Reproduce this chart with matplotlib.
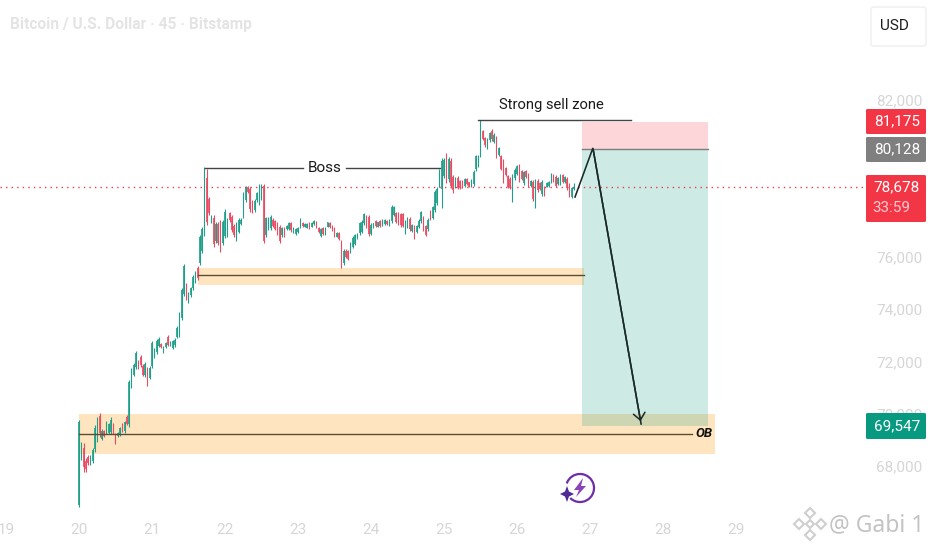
import matplotlib
matplotlib.use("Agg")
import matplotlib.pyplot as plt
from matplotlib.patches import Arc, Polygon, FancyBboxPatch, Rectangle
import numpy as np

W, H = 932, 550
NARROW = ['Roboto', 'DejaVu Sans']

title = "Bitcoin / U.S. Dollar · 45 · Bitstamp"
first_day = 20
bars_per_day = 32
opens = [66500,68330,68700,68200,68350,68100,68200,68650,69050,69900,69050,69330,69280,69280,69300,69600,69200,69140,69200,69590,
 69330,69880,69600,71050,71500,71780,72000,72180,71840,71500,71700,71380,71830,72170,72350,72600,72680,72360,72540,72950,
 72620,72520,72620,72950,73030,73680,74600,74950,74290,74530,74800,75060,75590,75770,76240,76900,79000,78230,77330,77500,
 76600,77270,77320,76530,76800,76830,77680,77530,77200,76700,76960,77260,77550,78180,78660,78600,78120,77780,78160,78060,
 78240,78700,76820,77090,77090,77420,77360,77290,77150,76820,77100,77060,77070,77300,76940,76880,76940,77140,77310,77160,
 77120,77280,77160,77250,77340,77110,76810,77090,76880,77160,77310,77190,77090,76780,76920,76560,75760,76240,76210,76210,76390,76500,
 76700,76900,76960,77280,77540,77520,76890,77120,77370,77160,77370,77210,77250,77380,77230,
 77390,77610,77670,77670,77630,77630,76930,77140,77450,77000,77150,76940,77140,77370,77500,77170,77060,77740,77500,77810,
 78060,78730,78600,79080,79860,78960,79670,79060,78670,79030,78890,78890,78730,78960,78850,78730,78770,79360,79500,79900,
 80800,80550,80160,80460,80830,80390,80540,79900,79840,79640,79400,79080,78980,78800,79000,79180,79480,79270,78810,
 79280,79130,78700,78860,78400,78900,78830,78400,78660,78690,78700,78860,79130,79070,78790,78800,79120,78850,78980,
 78770,78300,78600]
highs = [69760,68930,68870,68300,68420,68420,68680,69570,69890,70020,69410,69380,69740,69660,69860,69660,69250,69320,69510,69640,
 69740,69940,71290,71740,71930,72400,72060,72250,71900,71990,71800,71830,72780,72500,72860,72920,72720,72590,72760,73010,
 72780,72820,72890,73360,73910,74800,75730,75010,74670,74860,75310,75470,75650,76840,77130,79450,79350,78300,77600,77600,
 77350,77350,77410,77410,77820,77470,77730,77600,77260,77350,77470,77470,78490,78710,78710,78690,78180,78200,78490,78790,
 78790,78790,77540,77540,77600,77470,77410,77350,77220,77150,77150,77220,77350,77350,77150,77090,77150,77470,77350,77280,
 77300,77320,77350,77410,77380,77150,77090,77130,77130,77350,77350,77220,77130,76960,76960,76640,76290,76290,76260,76580,76800,76870,
 76900,77350,77410,77690,77600,77600,77280,77310,77410,77350,77410,77440,77440,77410,77440,
 77980,77950,77730,77730,77690,77690,77410,77510,77510,77260,77220,77220,77440,77770,77560,77220,77470,77790,77950,78560,
 78660,79350,79770,79770,79960,79830,79770,79130,79070,79090,78940,78940,79000,79000,78880,78970,79320,79900,79900,81240,
 80850,80600,80530,80790,80880,80730,80620,80220,79900,79730,79450,79130,79040,79170,79390,79510,79550,79320,79300,
 79320,79200,78940,78940,78970,78970,78880,78940,78710,78880,78910,79200,79170,79130,79040,79170,79170,79090,79040,
 78840,78680,78810]
lows = [66450,68230,67785,67790,68040,68040,68100,68550,68930,69120,69000,69120,69230,69230,69230,69230,68840,69100,69150,69300,
 69280,69570,69510,70970,71440,71700,71700,71800,71440,71420,71060,71320,71740,72120,72290,72540,72500,72310,72500,72590,
 72590,72470,72570,72890,72950,73590,74510,74350,74230,74480,74740,75010,75120,75690,76160,76800,77220,77600,77280,76390,
 76520,76450,76200,76450,76710,76750,77350,76960,76770,76620,76900,77220,77470,78110,78430,77730,77660,77730,78110,77980,
 78180,76520,76750,77030,77030,77150,77030,76840,76520,76770,76770,77030,77030,76960,76900,76840,76900,77090,77150,77130,
 77090,77060,77130,77220,77090,76900,76770,76840,76840,77130,77090,76990,76750,76750,76640,75560,75690,75940,75880,76160,76330,76450,
 76670,76840,76900,77220,77090,76800,76840,77090,77130,77130,77130,77180,77220,77220,77200,
 77310,77560,77280,77220,77150,77130,76870,77090,77000,76960,76670,76900,77090,77310,77000,76800,77000,77410,77440,77730,
 77980,78660,77860,79000,78840,78880,78620,78460,78620,78580,78580,78620,78690,78750,78660,78690,78710,79300,79450,79810,
 80470,80220,80110,80410,80450,80340,79770,79860,79320,78810,79090,78620,78580,78110,78940,79130,78880,78940,78750,
 79000,78660,78660,78150,77860,78490,78560,78330,78330,78660,78660,78810,78880,78660,78750,78750,78810,78810,78560,
 78300,78240,78560]
closes = [69700,68830,67950,67900,68100,68350,68600,69450,69750,69250,69350,69170,69680,69600,69750,69280,68950,69280,69460,69350,
 69680,69620,71200,71650,71870,72320,71760,71860,71500,71920,71180,71760,72700,72450,72800,72860,72540,72540,72710,72650,
 72750,72770,72840,73300,73830,74720,75650,74420,74610,74810,75250,75420,75180,76770,77060,79350,77350,77680,77550,76500,
 77270,76530,76300,77330,77730,77400,77400,77030,76830,77280,77400,77430,78400,78640,78470,77820,77720,78150,78440,78710,
 78730,76620,77470,77480,77540,77200,77080,76900,76600,77100,76820,77190,77310,77010,77110,77050,77110,77420,77190,77250,
 77270,77100,77310,77380,77130,76940,77050,76880,77090,77320,77130,77020,76790,76930,76680,75640,76220,75990,75930,76530,76740,76820,
 76870,77290,77350,77630,77150,76880,77230,77280,77170,77320,77170,77410,77410,77250,77410,
 77900,77900,77340,77280,77210,77190,77350,77460,77060,77220,76740,77180,77390,77710,77060,76850,77410,77460,77890,78480,
 78580,79270,79680,79700,78940,79750,78720,78540,79020,78640,78630,78670,78960,78790,78690,78930,79260,79840,79850,80900,
 80520,80270,80480,80740,80500,80680,79850,80180,79380,78900,79140,78680,78640,79100,79330,79460,78950,78990,79240,
 79040,78730,78900,78230,78900,78550,78610,78880,78390,78840,78870,79150,78920,78720,79000,79120,78860,79050,78620,
 78370,78620,78678]

day_ticks = [19, 20, 21, 22, 23, 24, 25, 26, 27, 28, 29]
price_ticks = [68000, 70000, 72000, 74000, 76000, 82000]
x_left, x_right = 18.918, 30.781
y_bottom, y_top = 66130, 85824

last_price = 78678
countdown = "33:59"
target_price = 69547
entry_price = 80128
stop_price = 81175

ob_zone = (20.0, 28.71, 68463, 69993)
ob_level = 69230
ob_line_end = 28.40
mid_zone = (21.63, 26.92, 74926, 75576)
mid_level = 75308
pos_left, pos_right = 26.89, 28.62
boss_level = 79400
boss_left = (21.73, 23.07)
boss_right = (23.66, 24.95)
boss_text_at = 23.37
sell_level = 81235
sell_span = (25.47, 27.56)
sell_text = (26.47, 81790)
arrow_x = [26.795, 27.04, 27.70]
arrow_y = [78290, 80165, 69610]

GREEN = '#1f9f88'
RED = '#ea4a62'

fig = plt.figure(figsize=(W / 100, H / 100), dpi=100, facecolor='white')
ax = fig.add_axes([0, 35 / H, 866 / W, 515 / H])
ax.set_xlim(x_left, x_right)
ax.set_ylim(y_bottom, y_top)
for s in ax.spines.values():
    s.set_visible(False)
ax.set_xticks(day_ticks)
ax.set_yticks(price_ticks)
ax.yaxis.tick_right()
ax.set_yticklabels([f"{p:,}" for p in price_ticks])
ax.tick_params(length=0, labelcolor='#d6d6d6', labelsize=11, pad=0)
ax.tick_params(axis='x', pad=6)
ax.tick_params(axis='y', pad=7.5)
for t in ax.get_xticklabels() + ax.get_yticklabels():
    t.set_family(NARROW)


def zone(x0, x1, y0, y1, color, alpha, z=1):
    ax.add_patch(Rectangle((x0, y0), x1 - x0, y1 - y0, fc=color, ec='none', alpha=alpha, zorder=z))


zone(ob_zone[0], ob_zone[1], ob_zone[2], ob_zone[3], '#ff9800', 0.25)
zone(mid_zone[0], mid_zone[1], mid_zone[2], mid_zone[3], '#ff9800', 0.25)
zone(pos_left, pos_right, target_price, entry_price, '#089981', 0.2, 1.2)
zone(pos_left, pos_right, entry_price, stop_price, '#f23645', 0.2, 1.2)

# candles
x = first_day + np.arange(len(closes)) / bars_per_day
o, h, l, c = map(np.array, (opens, highs, lows, closes))
cols = [GREEN if cc >= oo else RED for oo, cc in zip(o, c)]
ax.vlines(x, l, h, colors=cols, lw=0.8, zorder=3)
ax.bar(x, np.abs(c - o), bottom=np.minimum(o, c), width=1.4 / 73, color=cols, linewidth=0, zorder=3.1, alpha=0.85)

# levels
ax.axhline(last_price, color='#ef3b52', lw=1, ls=(0, (1, 3)), zorder=2)
ax.plot([ob_zone[0], ob_line_end], [ob_level, ob_level], color='#5a4c34', lw=1, zorder=4)
ax.plot([mid_zone[0], mid_zone[1]], [mid_level, mid_level], color='#5a4c34', lw=1, zorder=4)
ax.plot([pos_left, pos_right], [entry_price, entry_price], color='#7d7d7d', lw=1, zorder=4)
ax.plot(boss_left, [boss_level] * 2, color='#444444', lw=1, zorder=4)
ax.plot(boss_right, [boss_level] * 2, color='#444444', lw=1, zorder=4)
ax.plot(sell_span, [sell_level] * 2, color='#444444', lw=1, zorder=4)
ax.text(boss_text_at, boss_level, "Boss", family=NARROW, fontsize=11, color='#1a1a1a', ha='center', va='center', zorder=5)
ax.text(sell_text[0], sell_text[1], "Strong sell zone", family=NARROW, fontsize=10.6, color='#1a1a1a', ha='center', va='center', zorder=5)
ax.text(ob_line_end + 0.04, ob_level, "OB", family=NARROW, fontsize=9.5, weight='bold', style='italic', color='#111111', ha='left', va='center', zorder=5)

# arrow path
ax.plot(arrow_x, arrow_y, color='#1a2a2a', lw=1.15, zorder=5, solid_joinstyle='miter')
ax.annotate('', xy=(arrow_x[2], arrow_y[2]), xytext=(arrow_x[1], arrow_y[1]),
            arrowprops=dict(arrowstyle='->,head_length=0.5,head_width=0.42', color='#1a2a2a', lw=1.1), zorder=5)


def fx(px):
    return px / W


def fy(py):
    return 1 - py / H


# title
fig.text(fx(10), fy(25), title, family=['Roboto', 'DejaVu Sans'], fontsize=11.2, weight='bold', color='#e4e4e4', va='center', ha='left')

# USD button
fig.add_artist(FancyBboxPatch((fx(871), fy(46)), 55 / W, 39 / H, boxstyle='round,pad=0,rounding_size=0.004',
                              transform=fig.transFigure, fc='white', ec='#eeeeee', lw=1))
fig.text(fx(894), fy(26), "USD", family=NARROW, fontsize=11, color='#1c1c1c', ha='center', va='center')


# price tags
def tag(y0, y1, col):
    fig.add_artist(FancyBboxPatch((fx(866), fy(y1)), 60 / W, (y1 - y0) / H, boxstyle='round,pad=0,rounding_size=0.002',
                                  transform=fig.transFigure, fc=col, ec='none', zorder=6))


TAG_FS = 11
tag(109, 134, '#f23645')
fig.text(fx(897), fy(121), f"{stop_price:,}", family=NARROW, fontsize=TAG_FS, color='white', ha='center', va='center', zorder=7)
tag(137, 162, '#7f7f7f')
fig.text(fx(897), fy(149), f"{entry_price:,}", family=NARROW, fontsize=TAG_FS, color='white', ha='center', va='center', zorder=7)
tag(175, 222, '#f23645')
fig.text(fx(897), fy(187), f"{last_price:,}", family=NARROW, fontsize=TAG_FS, color='white', ha='center', va='center', zorder=7)
fig.text(fx(891), fy(208), countdown, family=NARROW, fontsize=TAG_FS, color='#ffc9d0', ha='center', va='center', zorder=7)
tag(413, 439, '#089981')
fig.text(fx(897), fy(426), f"{target_price:,}", family=NARROW, fontsize=TAG_FS, color='white', ha='center', va='center', zorder=7)

# lightning badge
PURPLE = '#6f2da8'
fig.add_artist(Arc((fx(580), fy(488)), 28 / W, 28 / H, theta1=-120, theta2=150, transform=fig.transFigure, color=PURPLE, lw=1.6))
fig.add_artist(Polygon([(fx(583), fy(478)), (fx(574), fy(490)), (fx(579), fy(490)), (fx(576), fy(497)), (fx(586), fy(486)), (fx(581), fy(486))],
                       closed=True, transform=fig.transFigure, fc='#8a44b8', ec='none'))
fig.add_artist(Polygon([(fx(567), fy(486)), (fx(569), fy(491.5)), (fx(574), fy(494)), (fx(569), fy(496.5)), (fx(567), fy(502)),
                        (fx(565), fy(496.5)), (fx(560), fy(494)), (fx(565), fy(491.5))],
                       closed=True, transform=fig.transFigure, fc='#4e2a96', ec='none'))

# watermark
WM = '#cfcfcf'
for cx, cy, r in [(810, 513, 5), (810, 535, 5), (799, 524, 5), (821, 524, 5), (810, 524, 4)]:
    fig.add_artist(Polygon([(fx(cx), fy(cy - r)), (fx(cx + r), fy(cy)), (fx(cx), fy(cy + r)), (fx(cx - r), fy(cy))],
                           closed=True, transform=fig.transFigure, fc='none', ec=WM, lw=1.5))
fig.text(fx(829), fy(525), "@ Gabi 1", family=['Noto Sans', 'DejaVu Sans'], fontsize=16.5, color='#c4c4c4', ha='left', va='center')

fig.savefig('out.png', dpi=100)
